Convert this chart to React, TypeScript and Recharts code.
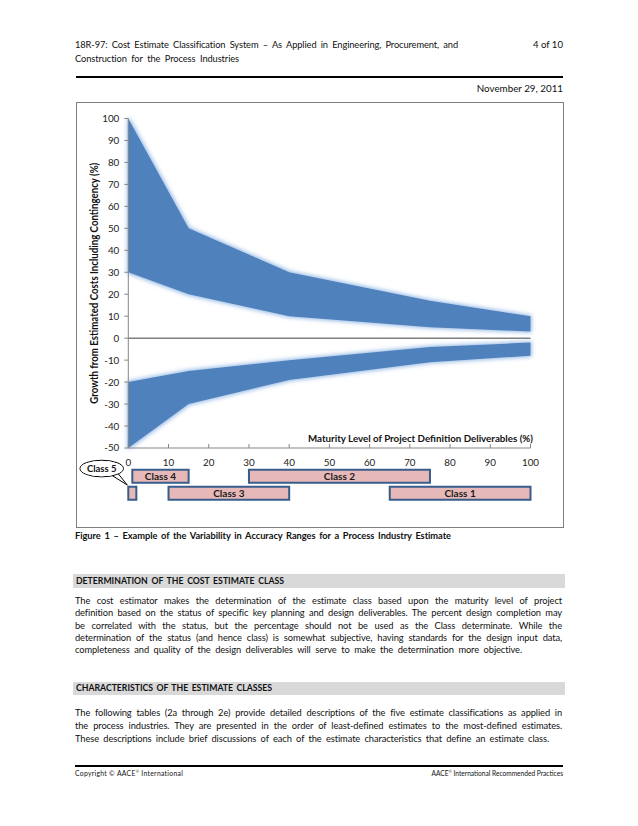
import React from "react";
import {
  ComposedChart,
  Area,
  XAxis,
  YAxis,
  ReferenceLine,
  BarChart,
  Bar,
  LabelList,
} from "recharts";

// maturity level (%) where the band outlines bend
const maturity = [0, 15, 40, 75, 100];
// growth band above zero (%)
const overLow = [30, 20, 10, 5, 3];
const overHigh = [100, 50, 30, 17, 10];
// growth band below zero (%)
const underLow = [-50, -30, -19, -11, -8];
const underHigh = [-20, -15, -10, -4, -2];

const xTicks = [0, 10, 20, 30, 40, 50, 60, 70, 80, 90, 100];
const yTicks = [-50, -40, -30, -20, -10, 0, 10, 20, 30, 40, 50, 60, 70, 80, 90, 100];

// estimate classes along the maturity axis
const classNames = ["Class 5", "Class 4", "Class 3", "Class 2", "Class 1"];
const classStart = [0, 1, 10, 30, 65];
const classEnd = [2, 15, 40, 75, 100];
const classRow = ["low", "high", "low", "high", "low"];
const rowKeys = ["high", "low"];

const para1 = [
  "The cost estimator makes the determination of the estimate class based upon the maturity level of project",
  "definition based on the status of specific key planning and design deliverables. The percent design completion may",
  "be correlated with the status, but the percentage should not be used as the Class determinate. While the",
  "determination of the status (and hence class) is somewhat subjective, having standards for the design input data,",
  "completeness and quality of the design deliverables will serve to make the determination more objective.",
];
const para2 = [
  "The following tables (2a through 2e) provide detailed descriptions of the five estimate classifications as applied in",
  "the process industries. They are presented in the order of least-defined estimates to the most-defined estimates.",
  "These descriptions include brief discussions of each of the estimate characteristics that define an estimate class.",
];

const SANS = "Lato, 'Noto Sans', sans-serif";
const BODY = 9.3;

const bandData = maturity.map((m, i) => ({
  m,
  over: [overLow[i], overHigh[i]],
  under: [underLow[i], underHigh[i]],
}));

// put each class in a slot of its row so the bars of a row share one line
const classData = rowKeys.map(row => {
  const entry: any = { row, r0: null, r1: null, r2: null };
  let slot = 0;
  classNames.forEach((name, i) => {
    if (classRow[i] !== row) return;
    entry["r" + slot] = [classStart[i], classEnd[i]];
    entry["n" + slot] = name;
    slot++;
  });
  return entry;
});

function XTick(props: any) {
  const { x, y, payload } = props;
  return (
    <g>
      <line x1={x} x2={x} y1={y - 14} y2={y - 18} stroke="#868686" />
      <text x={x} y={y} textAnchor="middle" dominantBaseline="central" fontSize={9.8} fontFamily={SANS} fill="#222">
        {payload.value}
      </text>
    </g>
  );
}

function XTitle(props: any) {
  const vb = props.viewBox || {};
  return (
    <text
      x={vb.x + vb.width + 2.5}
      y={vb.y - 10}
      textAnchor="end"
      dominantBaseline="central"
      fontSize={10}
      fontWeight={700}
      fontFamily={SANS}
      fill="#111"
      textLength={225}
      lengthAdjust="spacingAndGlyphs"
    >
      Maturity Level of Project Definition Deliverables (%)
    </text>
  );
}

function YTitle(props: any) {
  const vb = props.viewBox || {};
  const x = vb.x + 6;
  const y = vb.y + vb.height / 2;
  return (
    <text
      x={x}
      y={y}
      transform={`rotate(-90 ${x} ${y})`}
      textAnchor="middle"
      dominantBaseline="central"
      fontSize={10.5}
      fontWeight={700}
      fontFamily={SANS}
      fill="#111"
      textLength={241}
      lengthAdjust="spacingAndGlyphs"
    >
      Growth from Estimated Costs Including Contingency (%)
    </text>
  );
}

function ClassLabel(props: any) {
  const vb = props.viewBox || props;
  const { x, y, width, height } = vb;
  const value = props.value;
  if (!value || x == null) return null;
  if (value === "Class 5") {
    // callout bubble to the left of the tiny bar
    const cx = x - 26.6;
    const cy = y - 18.2;
    return (
      <g>
        <ellipse cx={cx} cy={cy} rx={21.7} ry={8.3} fill="#fff" stroke="#000" strokeWidth={1} />
        <path
          d={`M${cx + 16.6},${cy + 5.3} L${x - 1},${y - 1.7} L${cx + 10.8},${cy + 7.2} Z`}
          fill="#fff"
          stroke="#000"
          strokeWidth={1}
        />
        <ellipse cx={cx} cy={cy} rx={21} ry={7.6} fill="#fff" />
        <text x={cx} y={cy} textAnchor="middle" dominantBaseline="central" fontSize={9.5} fontWeight={700} fontFamily={SANS} fill="#111">
          {value}
        </text>
      </g>
    );
  }
  return (
    <text
      x={x + width / 2}
      y={y + height / 2}
      textAnchor="middle"
      dominantBaseline="central"
      fontSize={10}
      fontWeight={700}
      fontFamily={SANS}
      fill="#1a1a1a"
    >
      {value}
    </text>
  );
}

// one line of page text, stretched to the width it has in the scan
function TextLine({ y, left = 75, width = 487, align = "justify", bold = false, size = BODY, spacing = -0.1, nowrap = false, children }: any) {
  return (
    <div
      style={{
        position: "absolute",
        left,
        top: y - 7,
        width,
        height: 14,
        lineHeight: "14px",
        fontSize: size,
        letterSpacing: spacing,
        fontWeight: bold ? 700 : 400,
        textAlign: align,
        textAlignLast: align,
        whiteSpace: nowrap ? "nowrap" : "normal",
      }}
    >
      {children}
    </div>
  );
}

const para1Widths = [487, 487, 487, 487, 447];
const para2Widths = [487, 487, 474];

export default function App() {
  return (
    <div
      style={{
        position: "relative",
        width: 638,
        height: 826,
        margin: -8,
        background: "#fff",
        fontFamily: SANS,
        color: "#111",
        overflow: "hidden",
      }}
    >
      <style>{`.recharts-area-area{filter:url(#glow)}`}</style>
      <svg width={0} height={0} style={{ position: "absolute" }}>
        <defs>
          <filter id="glow" x="-10%" y="-10%" width="120%" height="120%">
            <feMorphology in="SourceAlpha" operator="dilate" radius={1.4} result="grow" />
            <feGaussianBlur in="grow" stdDeviation={2} result="blur" />
            <feFlood floodColor="#8db4e3" floodOpacity={0.95} />
            <feComposite in2="blur" operator="in" result="halo" />
            <feMerge>
              <feMergeNode in="halo" />
              <feMergeNode in="SourceGraphic" />
            </feMerge>
          </filter>
        </defs>
      </svg>

      {/* page header */}
      <TextLine y={45} width={383}>18R-97: Cost Estimate Classification System – As Applied in Engineering, Procurement, and</TextLine>
      <TextLine y={45} left={400} width={163} align="right" spacing={0} size={9.6}>4 of 10</TextLine>
      <TextLine y={59} width={164}>Construction for the Process Industries</TextLine>
      <div style={{ position: "absolute", left: 76, top: 76, width: 487, height: 2, background: "#000" }} />
      <TextLine y={88} left={300} width={263} align="right" spacing={0} size={9.8}>November 29, 2011</TextLine>

      {/* figure frame */}
      <div
        style={{
          position: "absolute",
          left: 76,
          top: 102,
          width: 488,
          height: 426,
          border: "1px solid #7f7f7f",
          boxSizing: "border-box",
        }}
      />

      <div style={{ position: "absolute", left: 76, top: 102 }}>
        <ComposedChart width={488} height={426} data={bandData} margin={{ top: 16.5, right: 33.5, bottom: 60, left: 12 }}>
          <XAxis
            dataKey="m"
            type="number"
            domain={[0, 100]}
            ticks={xTicks}
            interval={0}
            tickSize={0}
            tickMargin={14}
            tickLine={false}
            tick={<XTick />}
            stroke="#868686"
            height={20}
            label={<XTitle />}
          />
          <YAxis
            type="number"
            domain={[-50, 100]}
            ticks={yTicks}
            interval={0}
            tickSize={4}
            tickMargin={5}
            width={40.3}
            stroke="#868686"
            tick={{ fill: "#222", fontSize: 9.8, fontFamily: SANS }}
            label={<YTitle />}
          />
          <ReferenceLine y={0} stroke="#7f7f7f" strokeWidth={1.5} />
          <Area type="linear" dataKey="over" fill="#4f81bd" fillOpacity={1} stroke="none" isAnimationActive={false} />
          <Area type="linear" dataKey="under" fill="#4f81bd" fillOpacity={1} stroke="none" isAnimationActive={false} />
        </ComposedChart>
      </div>

      <div style={{ position: "absolute", left: 76, top: 452 }}>
        <BarChart
          layout="vertical"
          width={488}
          height={58}
          data={classData}
          barSize={13}
          margin={{ top: 15.85, right: 33.5, bottom: 8.35, left: 52.3 }}
        >
          <XAxis type="number" domain={[0, 100]} hide />
          <YAxis yAxisId="s0" type="category" dataKey="row" hide />
          <YAxis yAxisId="s1" type="category" dataKey="row" hide />
          <YAxis yAxisId="s2" type="category" dataKey="row" hide />
          {[0, 1, 2].map(k => (
            <Bar
              key={k}
              yAxisId={"s" + k}
              dataKey={"r" + k}
              fill="#e6b9b8"
              stroke="#385d8a"
              strokeWidth={2}
              isAnimationActive={false}
            >
              <LabelList dataKey={"n" + k} content={<ClassLabel />} />
            </Bar>
          ))}
        </BarChart>
      </div>

      <TextLine y={536} width={376} bold spacing={-0.05}>
        Figure 1 – Example of the Variability in Accuracy Ranges for a Process Industry Estimate
      </TextLine>

      <div style={{ position: "absolute", left: 73, top: 574, width: 492, height: 14, background: "#d9d9d9" }} />
      <TextLine y={581} left={76} width={208} bold size={8.7} spacing={0}>DETERMINATION OF THE COST ESTIMATE CLASS</TextLine>
      {para1.map((t, i) => (
        <TextLine key={i} y={601 + i * 12.3} width={para1Widths[i]}>
          {t}
        </TextLine>
      ))}

      <div style={{ position: "absolute", left: 73, top: 681.5, width: 492, height: 13, background: "#d9d9d9" }} />
      <TextLine y={688} left={76} width={196} bold size={8.7} spacing={0}>CHARACTERISTICS OF THE ESTIMATE CLASSES</TextLine>
      {para2.map((t, i) => (
        <TextLine key={i} y={713 + i * 13} width={para2Widths[i]}>
          {t}
        </TextLine>
      ))}

      {/* page footer */}
      <div style={{ position: "absolute", left: 75, top: 765, width: 488, height: 2, background: "#000" }} />
      <TextLine y={772} width={120} size={6.8} spacing={0.3} align="left" nowrap>
        Copyright © AACE<sup style={{ fontSize: 4 }}>®</sup> International
      </TextLine>
      <TextLine y={772} left={400} width={163} size={6.6} spacing={0} align="right" nowrap>
        AACE<sup style={{ fontSize: 4 }}>®</sup> International Recommended Practices
      </TextLine>
    </div>
  );
}
